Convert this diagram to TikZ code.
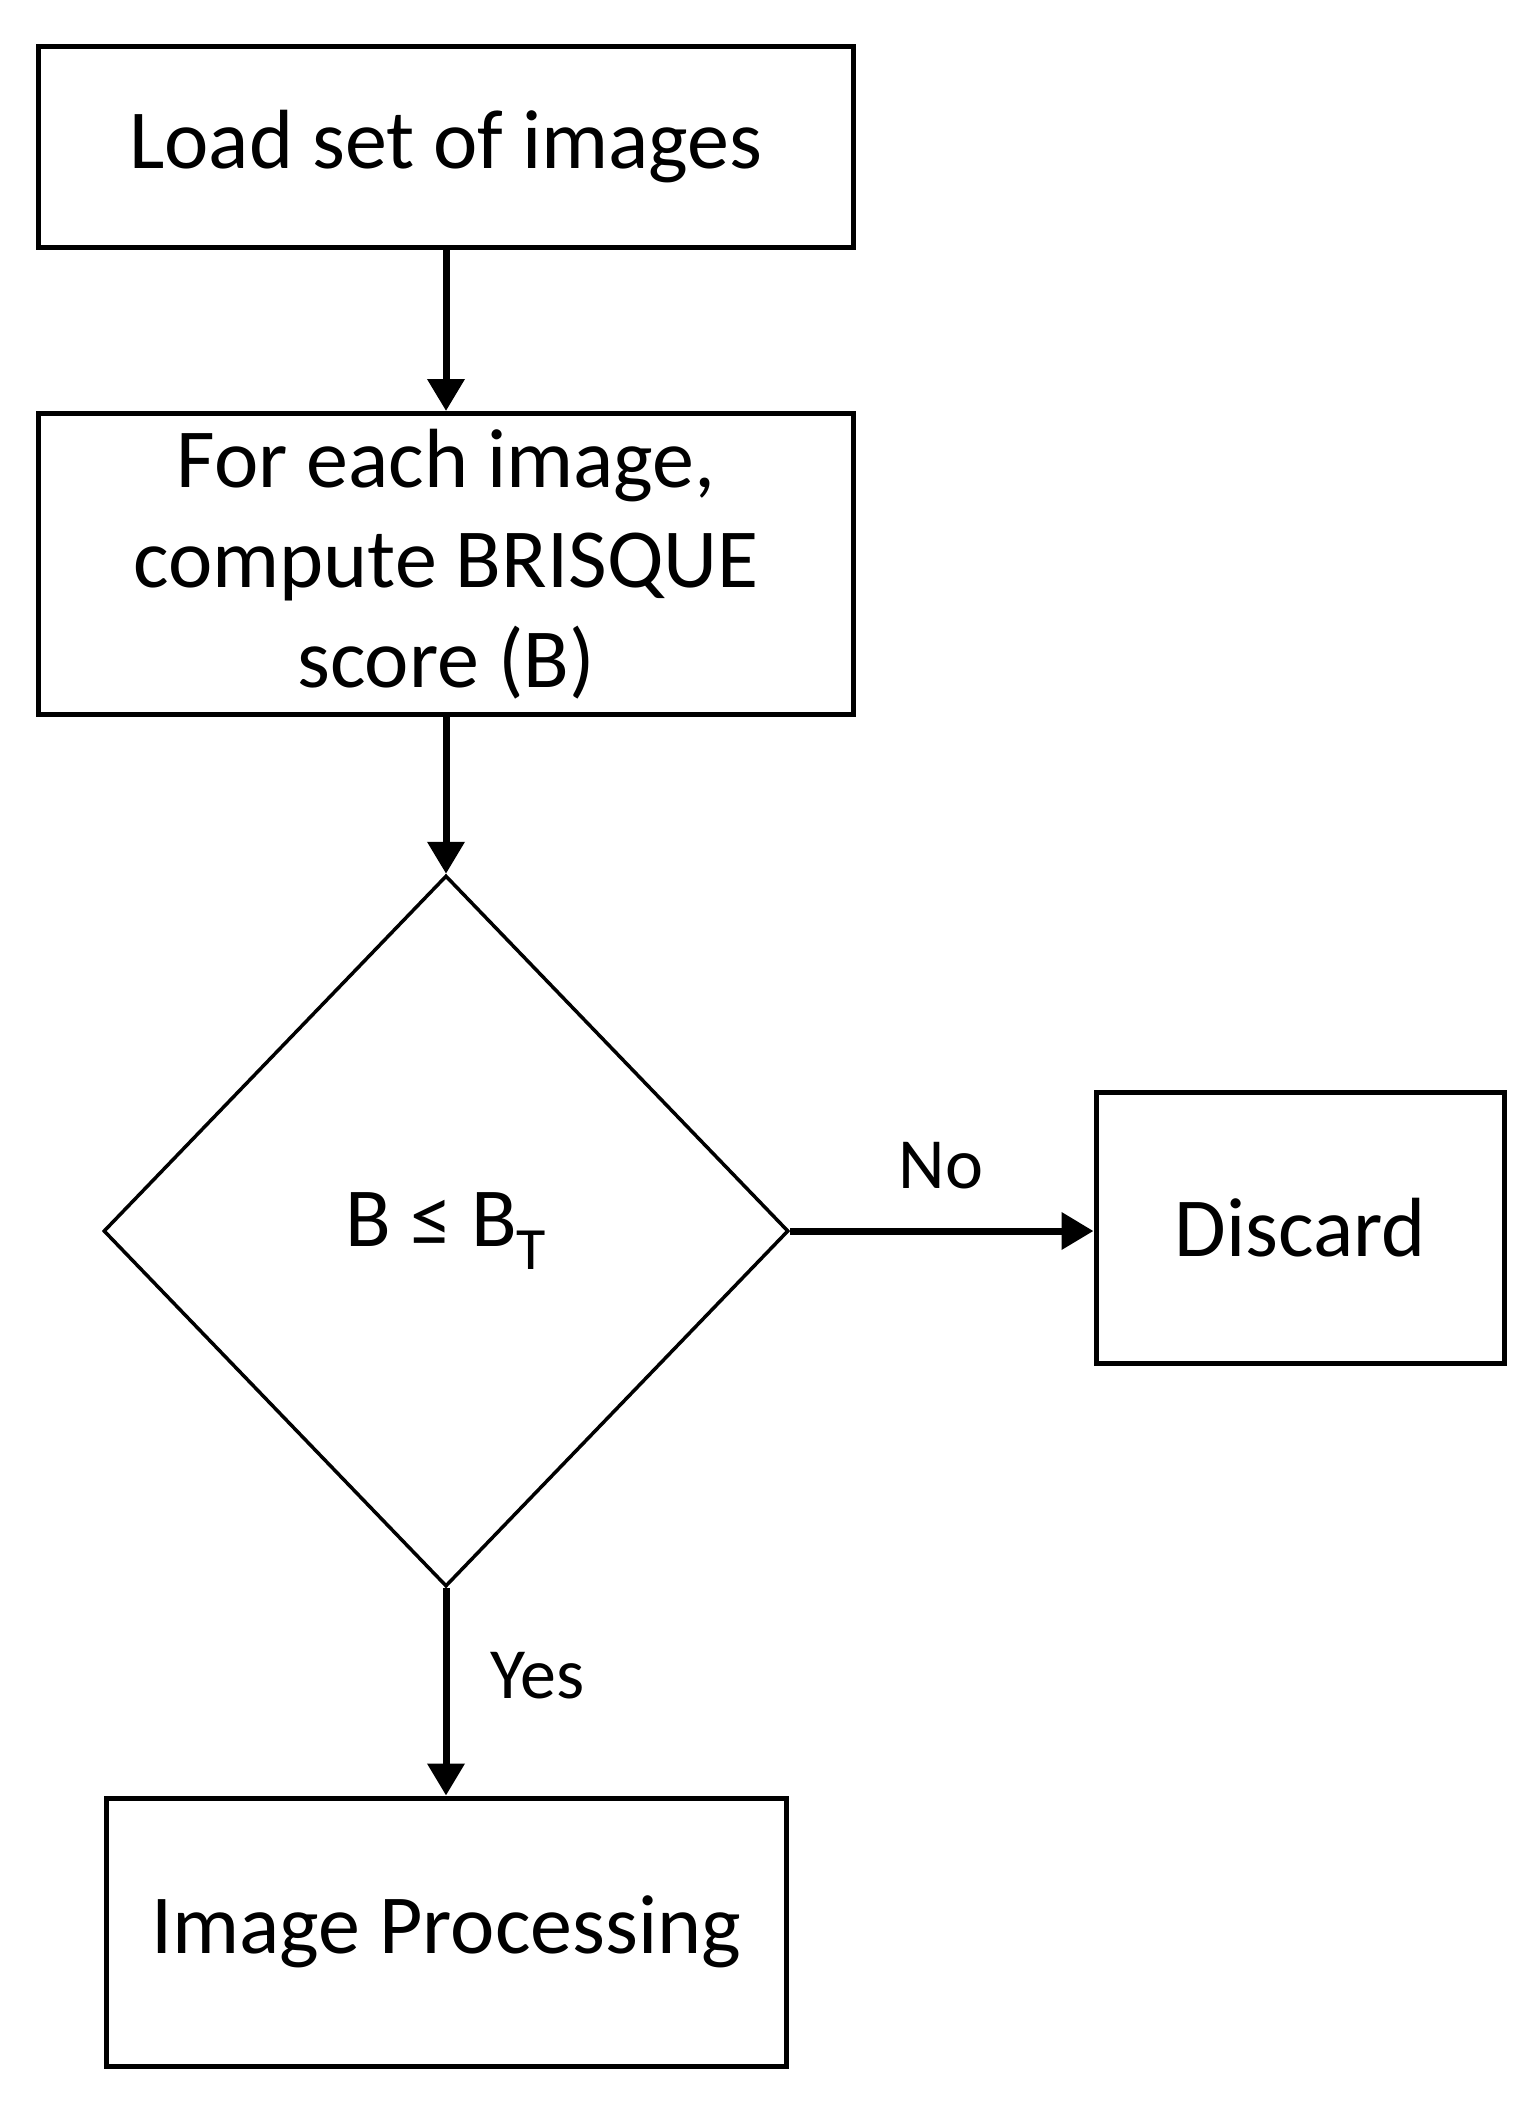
\documentclass[tikz,border=0pt]{standalone}
\usepackage{fontspec}
\setmainfont{Carlito}
\usetikzlibrary{arrows.meta,shapes.geometric}
\begin{document}
\begin{tikzpicture}[x=1pt,y=-1pt,
  box/.style={draw,line width=5pt,inner sep=0pt,align=center,font=\fontsize{84}{100}\selectfont},
  conn/.style={line width=7pt,-{Triangle[width=36pt,length=32pt]}},
  lbl/.style={font=\fontsize{72}{84}\selectfont,inner sep=0pt}]
\useasboundingbox[fill=white] (0,0) rectangle (1539,2106);
\node[box,minimum width=815pt,minimum height=201pt] (load) at (446,147) {Load set of images};
\node[box,minimum width=815pt,minimum height=301pt] (brisque) at (446,564) {For each image,\\compute BRISQUE\\score (B)};
\node[draw,diamond,line width=3.5pt,inner sep=0pt,minimum width=685pt,minimum height=711pt,font=\fontsize{84}{100}\selectfont] (dec) at (446,1231) {B ≤ B\raisebox{-0.28em}{\fontsize{60}{60}\selectfont T}};
\node[box,minimum width=408pt,minimum height=271pt] (discard) at (1300,1228) {Discard};
\node[box,minimum width=680pt,minimum height=268pt] (proc) at (446,1932) {Image Processing};
\draw[conn] (load.south) -- (brisque.north);
\draw[conn] (brisque.south) -- (dec.north);
\draw[conn] (dec.east) -- (discard.west |- dec.east);
\draw[conn] (dec.south) -- (proc.north);
\node[lbl] (no) at (941,1166) {No};
\node[lbl,anchor=west] (yes) at (490,1676) {Yes};
\end{tikzpicture}
\end{document}
